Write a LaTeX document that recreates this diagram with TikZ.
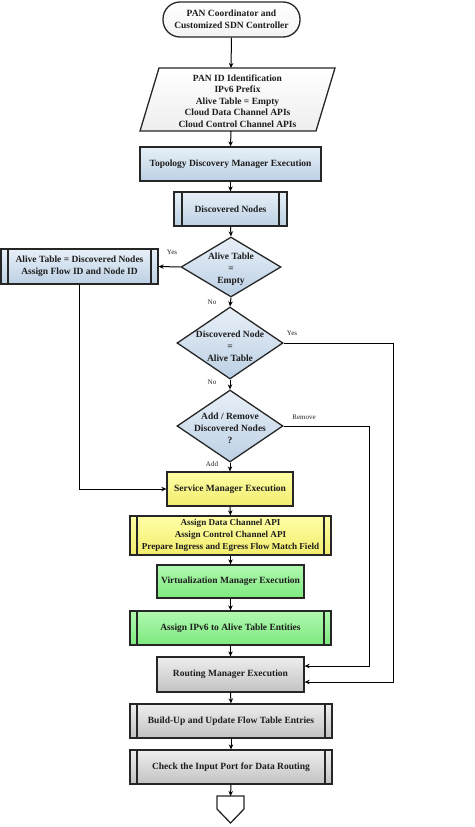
\documentclass[tikz,border=0pt]{standalone}
\usepackage{fontspec}
\setmainfont{Liberation Serif}
\usetikzlibrary{shapes.geometric,arrows.meta}
\definecolor{txt}{HTML}{1E1E1E}
\definecolor{blueT}{HTML}{E8F0F8}
\definecolor{blueB}{HTML}{BCD0E4}
\definecolor{yelT}{HTML}{FFFFA6}
\definecolor{yelB}{HTML}{F2EC6C}
\definecolor{grnT}{HTML}{B0F8B0}
\definecolor{grnB}{HTML}{7EEA7E}
\definecolor{gryT}{HTML}{EEEEEE}
\definecolor{gryB}{HTML}{C2C2C2}
\tikzset{
  box/.style={draw=black!85, line width=1.3pt, rectangle, inner sep=1pt, align=center,
    text=txt, font=\bfseries\fontsize{9.5}{11.8}\selectfont},
  blue/.style={top color=blueT, bottom color=blueB},
  yel/.style={top color=yelT, bottom color=yelB},
  grn/.style={top color=grnT, bottom color=grnB},
  gry/.style={top color=gryT, bottom color=gryB},
  bars/.style={path picture={
     \draw[black!85, line width=1.2pt] ([xshift=#1]path picture bounding box.north west) -- ([xshift=#1]path picture bounding box.south west);
     \draw[black!85, line width=1.2pt] ([xshift=-#1]path picture bounding box.north east) -- ([xshift=-#1]path picture bounding box.south east);}},
  dia/.style={draw=black!85, line width=1.3pt, diamond, inner sep=0pt, top color=blueT, bottom color=blueB},
  dtext/.style={align=center, text=txt, font=\bfseries\fontsize{9.5}{11.8}\selectfont, inner sep=0pt},
  lbl/.style={text=txt, font=\fontsize{7}{8}\selectfont, inner sep=0pt},
  arr/.style={draw=black, line width=1pt, -{Stealth[length=5pt,width=4.5pt]}},
}
\begin{document}
\begin{tikzpicture}[x=1pt,y=-1pt]
\useasboundingbox (0,0) rectangle (474,827);
% start
\node[box, top color=white, bottom color=gryT!70, rounded corners=17pt, minimum width=137pt, minimum height=35pt] (start) at (231.5,19.5) {PAN Coordinator and\\Customized SDN Controller};
% parallelogram
\coordinate (pa) at (159,68);
\coordinate (pb) at (335,68);
\coordinate (pc) at (316,131);
\coordinate (pd) at (140,131);
\draw[line width=1.3pt, draw=black!85, top color=white, bottom color=gryT] (pa) -- (pb) -- (pc) -- (pd) -- cycle;
\node[dtext, font=\bfseries\fontsize{9.5}{11.6}\selectfont] (par) at (237.5,101) {PAN ID Identification\\IPv6 Prefix\\Alive Table = Empty\\Cloud Data Channel APIs\\Cloud Control Channel APIs};
\coordinate (parT) at (231,68);
\coordinate (parB) at (231,131);
% boxes
\node[box, blue, minimum width=181pt, minimum height=34pt] (topo) at (230.5,164) {Topology Discovery Manager Execution};
\node[box, blue, bars=8pt, minimum width=113pt, minimum height=34pt] (disc) at (230.5,209) {Discovered Nodes};
\node[dia, minimum width=100pt, minimum height=60pt] (d1) at (231,267) {};
\node[dtext] (d1t) at (231,269.5) {Alive Table\\=\\Empty};
\node[box, blue, bars=7pt, minimum width=157pt, minimum height=35pt] (left) at (79.5,266.5) {Alive Table = Discovered Nodes\\Assign Flow ID and Node ID};
\node[dia, minimum width=106pt, minimum height=72pt] (d2) at (230,343) {};
\node[dtext] (d2t) at (230,346) {Discovered Node\\=\\Alive Table};
\node[dia, minimum width=106pt, minimum height=72pt] (d3) at (230,426) {};
\node[dtext] (d3t) at (230,428) {Add / Remove\\Discovered Nodes\\?};
\node[box, yel, minimum width=126pt, minimum height=34pt] (svc) at (230,489) {Service Manager Execution};
\node[box, yel, bars=7pt, minimum width=201pt, minimum height=39pt, font=\bfseries\fontsize{9.1}{11.8}\selectfont] (asg) at (230.5,535.5) {Assign Data Channel API\\Assign Control Channel API\\Prepare Ingress and Egress Flow Match Field};
\node[box, grn, minimum width=147pt, minimum height=33pt] (virt) at (230.5,581.5) {Virtualization Manager Execution};
\node[box, grn, bars=7pt, minimum width=201pt, minimum height=34pt] (ipv) at (230.5,628) {Assign IPv6 to Alive Table Entities};
\node[box, gry, minimum width=147pt, minimum height=35pt] (rout) at (230.5,674.5) {Routing Manager Execution};
\node[box, gry, bars=7pt, minimum width=202pt, minimum height=34pt] (build) at (231,721) {Build-Up and Update Flow Table Entries};
\node[box, gry, bars=7pt, minimum width=202pt, minimum height=34pt] (check) at (231,767) {Check the Input Port for Data Routing};
% off-page connector
\coordinate (op) at (230.5,796);
\draw[line width=1.3pt, draw=black!85, fill=white] (217,796) -- (244,796) -- (244,809) -- (230.5,823) -- (217,809) -- cycle;
% labels
\node[lbl] (ly1) at (172,252) {Yes};
\node[lbl] (ln1) at (212,302.5) {No};
\node[lbl] (ly2) at (292,333) {Yes};
\node[lbl] (ln2) at (212,382) {No};
\node[lbl] (lrm) at (304,417) {Remove};
\node[lbl] (lad) at (212,464) {Add};
% connectors
\draw[arr] (start.south) -- (parT);
\draw[arr] (parB) -- (topo.north);
\draw[arr] (topo.south) -- (disc.north);
\draw[arr] (disc.south) -- (d1.north);
\draw[arr] (d1.west) -- (left.east);
\draw[arr] (d1.south) -- (d2.north);
\draw[arr] (d2.south) -- (d3.north);
\draw[arr] (d3.south) -- (svc.north);
\draw[arr] (left.south) |- (svc.west);
\draw[arr] (d2.east) -- ++(110,0) |- ([yshift=-7.5pt]rout.east);
\draw[arr] (d3.east) -- ++(86,0) |- ([yshift=8.5pt]rout.east);
\draw[arr] (svc.south) -- (asg.north);
\draw[arr] (asg.south) -- (virt.north);
\draw[arr] (virt.south) -- (ipv.north);
\draw[arr] (ipv.south) -- (rout.north);
\draw[arr] (rout.south) -- (build.north);
\draw[arr] (build.south) -- (check.north);
\draw[arr] (check.south) -- (op);
\end{tikzpicture}
\end{document}
